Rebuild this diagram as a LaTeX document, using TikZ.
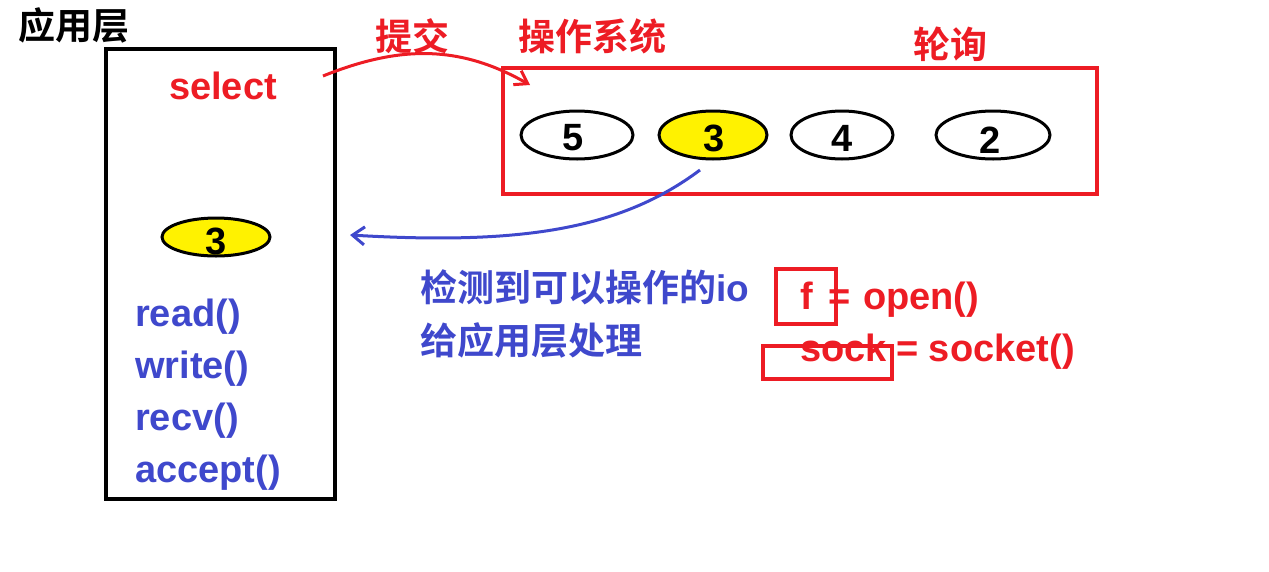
\documentclass[tikz,border=0pt]{standalone}
\usepackage{fontspec}
\setmainfont{Liberation Sans}
\newfontfamily\cjk{Noto Sans CJK SC}[BoldFont={Noto Sans CJK SC Bold}]
\usetikzlibrary{arrows.meta}
\definecolor{rd}{RGB}{237,28,36}
\definecolor{bl}{RGB}{63,72,204}
\definecolor{yl}{RGB}{255,242,0}
\tikzset{
 lat/.style={font=\fontsize{38}{42}\selectfont\bfseries, inner sep=0pt},
 cj/.style={font=\fontsize{37}{42}\selectfont\cjk\bfseries, inner sep=0pt},
 box/.style={draw=rd, line width=3.5pt},
}
\begin{document}
\begin{tikzpicture}[x=1pt,y=-1pt]
\useasboundingbox (0,0) rectangle (1269,571);
\node[cj,anchor=west] (app) at (18,25) {应用层};
\draw[line width=4pt] (106,49) rectangle (335,499);
\node[lat,text=rd] (sel) at (223,86) {select};
\node[cj,text=rd] (tj) at (412,36) {提交};
\node[cj,text=rd] (os) at (592,36) {操作系统};
\node[cj,text=rd] (lx) at (950,44) {轮询};
\draw[box] (503,68) rectangle (1097,194);
\draw[line width=3pt] (577,135) ellipse [x radius=56,y radius=24];
\draw[line width=3pt,fill=yl] (713,135) ellipse [x radius=54,y radius=24];
\draw[line width=3pt] (842,135) ellipse [x radius=51,y radius=24];
\draw[line width=3pt] (993,135) ellipse [x radius=57,y radius=24];
\node[lat] (n5) at (573,138) {5};
\node[lat] (n3) at (714,138) {3};
\node[lat] (n4) at (842,138) {4};
\node[lat] (n2) at (990,140) {2};
\coordinate (a1) at (323,76);
\coordinate (a2) at (530,85);
\draw[rd,line width=3pt,-{Straight Barb[length=12pt,width=16pt]}] (a1) .. controls (400,45) and (460,45) .. (a2);
\draw[line width=3pt,fill=yl] (216,237) ellipse [x radius=54,y radius=19];
\node[lat] (m3) at (216,241) {3};
\coordinate (b1) at (700,170);
\coordinate (b2) at (350,235);
\draw[bl,line width=3pt,-{Straight Barb[length=12pt,width=18pt]}] (b1) .. controls (620,230) and (520,245) .. (b2);
\node[lat,text=bl,anchor=west] (r) at (135,317) {read()};
\node[lat,text=bl,anchor=west] (w) at (135,369) {write()};
\node[lat,text=bl,anchor=west] (rc) at (135,421) {recv()};
\node[lat,text=bl,anchor=west] (ac) at (135,473) {accept()};
\node[cj,text=bl,anchor=west] (t1) at (420,287) {检测到可以操作的\fontspec{Liberation Sans}\bfseries io};
\node[cj,text=bl,anchor=west] (t2) at (420,340) {给应用层处理};
\node[lat,text=rd,anchor=west] (f) at (800,300) {f\hspace{16pt}=\hspace{12pt}open()};
\node[lat,text=rd,anchor=west] (s) at (800,352) {sock\hspace{10pt}=\hspace{10pt}socket()};
\draw[box] (776,269) rectangle (836,324);
\draw[box] (763,346) rectangle (892,379);
\end{tikzpicture}
\end{document}
